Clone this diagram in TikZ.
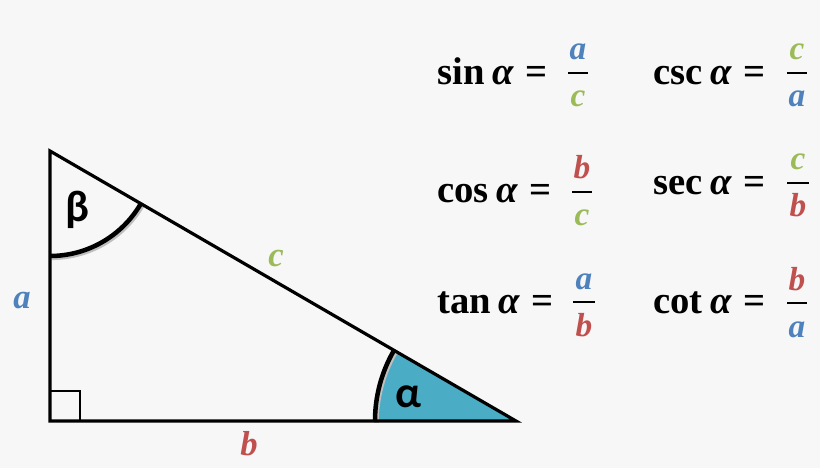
\documentclass[tikz,border=0pt]{standalone}
\usepackage{fontspec}
\setmainfont{Liberation Serif}
\newfontfamily\grk{Carlito}
\definecolor{bgc}{HTML}{F7F7F7}
\definecolor{ca}{HTML}{4F81BD}
\definecolor{cb}{HTML}{C0504D}
\definecolor{cc}{HTML}{9BBB59}
\definecolor{cf}{HTML}{4BACC6}
\tikzset{
  edge/.style={line width=2.4pt, line join=miter},
  anglearc/.style={line width=3.4pt},
  shade/.style={line width=3.4pt, black!25},
  fn/.style={anchor=base west, inner sep=0pt, font=\fontsize{29}{32}\selectfont\bfseries},
  frl/.style={anchor=base, inner sep=0pt, font=\fontsize{25}{28}\selectfont\bfseries\itshape},
  side/.style={anchor=base, inner sep=0pt, font=\fontsize{26}{28}\selectfont\bfseries\itshape},
  glab/.style={inner sep=0pt, font=\fontsize{33}{36}\selectfont\grk\bfseries},
  bar/.style={line width=2pt},
}
\newcommand{\myfrac}[8]{% name, x, bar y, num color, num, den color, den, halfwidth
  \coordinate (#1l) at (#2-#8,#3);
  \coordinate (#1r) at (#2+#8,#3);
  \draw[bar] (#1l) -- (#1r);
  \node[frl, text=#4] (#1n) at (#2,#3+13) {#5};
  \node[frl, text=#6] (#1d) at (#2,#3-34) {#7};
}
\newcommand{\fnt}[1]{#1\hspace{6pt}\textit{α}\hspace{8pt}=}
\begin{document}
\begin{tikzpicture}[x=0.75pt,y=0.75pt]
\fill[bgc] (0,0) rectangle (820,468);
\useasboundingbox (0,0) rectangle (820,468);
% vertices
\coordinate (R) at (50,47);
\coordinate (T) at (50,317);
\coordinate (V) at (516,47);
% alpha sector
\fill[cf] (V) -- ++(180:105.75pt) arc[start angle=180, end angle=149.86, radius=105.75pt] -- cycle;
% shadows of arcs
\draw[shade] ([shift={(1.5,-1.8)}]V) ++(180:105.75pt) arc[start angle=180, end angle=149.86, radius=105.75pt];
\draw[shade] ([shift={(1.5,-1.8)}]T) ++(270:78.75pt) arc[start angle=270, end angle=329.86, radius=78.75pt];
% arcs
\draw[anglearc] (V) ++(180:105.75pt) arc[start angle=180, end angle=149.86, radius=105.75pt];
\draw[anglearc] (T) ++(270:78.75pt) arc[start angle=270, end angle=329.86, radius=78.75pt];
% triangle
\draw[edge] (R) -- (T) -- (V) -- cycle;
% right angle mark
\coordinate (q1) at (80,47);
\coordinate (q2) at (80,77);
\coordinate (q3) at (50,77);
\draw[line width=2.2pt] (q1) -- (q2) -- (q3);
% side labels
\node[side, text=ca] (la) at (22,160) {a};
\node[side, text=cb] (lb) at (249,13) {b};
\node[side, text=cc] (lc) at (276,201) {c};
% angle labels
\node[glab] (beta) at (77,258) {β};
\node[glab] (alpha) at (408,71) {α};
% formulas
\node[fn] (sin) at (437,383) {\fnt{sin}};
\myfrac{f1}{578}{395}{ca}{a}{cc}{c}{10}
\node[fn] (csc) at (653,383) {\fnt{csc}};
\myfrac{f2}{797}{395}{cc}{c}{ca}{a}{10}
\node[fn] (cos) at (437,265) {\fnt{cos}};
\myfrac{f3}{582}{276}{cb}{b}{cc}{c}{10}
\node[fn] (sec) at (653,273) {\fnt{sec}};
\myfrac{f4}{798}{285}{cc}{c}{cb}{b}{11}
\node[fn] (tan) at (437,155) {\fnt{tan}};
\myfrac{f5}{584}{166}{ca}{a}{cb}{b}{11}
\node[fn] (cot) at (653,155) {\fnt{cot}};
\myfrac{f6}{797}{165}{cb}{b}{ca}{a}{10}
\end{tikzpicture}
\end{document}
